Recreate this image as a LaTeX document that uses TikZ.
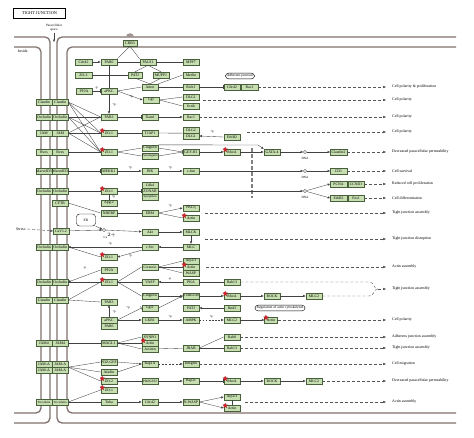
\documentclass[tikz,border=0pt]{standalone}
\usepackage{fontspec}
\setmainfont{Liberation Serif}
\usetikzlibrary{arrows.meta,shapes.geometric}
\definecolor{gfill}{RGB}{198,222,176}
\definecolor{gline}{RGB}{72,96,60}
\definecolor{memb}{RGB}{128,114,110}
\definecolor{cline}{RGB}{65,65,65}
\definecolor{dcol}{RGB}{85,85,85}
\definecolor{rstarc}{RGB}{222,30,40}
\begin{document}
\begin{tikzpicture}[x=1pt,y=-1pt,
  gene/.style={draw=gline,fill=gfill,line width=0.35pt,inner sep=0pt,minimum width=16.5pt,minimum height=6pt,font=\fontsize{3.8}{4}\selectfont},
  pair/.style={gene,minimum width=15.5pt},
  tiny/.style={font=\fontsize{3}{3}\selectfont},
  lbl/.style={font=\fontsize{3.9}{4.4}\selectfont,anchor=west,inner sep=0pt},
  con/.style={draw=cline,line width=0.35pt},
  act/.style={con,-{Triangle[length=2.4pt,width=2pt]}},
  inh/.style={con,-{Bar[width=4pt,line width=0.45pt]}},
  dsh/.style={draw=dcol,line width=0.4pt,dash pattern=on 3pt off 2pt,-{Triangle[length=2.8pt,width=2.3pt]}},
  dline/.style={draw=dcol,line width=0.4pt,dash pattern=on 3pt off 2pt},
  pl/.style={font=\fontsize{3.2}{3.2}\selectfont,inner sep=0pt},
  rstar/.style={star,star points=5,star point ratio=2.2,fill=rstarc,draw=rstarc!70!black,line width=0.2pt,minimum size=5pt,inner sep=0pt},
  rbox/.style={draw=black,rounded corners=3pt,line width=0.4pt,inner sep=1.2pt,font=\fontsize{3.6}{4}\selectfont},
  dnac/.style={circle,draw=cline,line width=0.35pt,minimum size=3.4pt,inner sep=0pt,fill=white},
  membl/.style={draw=memb,line width=1.3pt,rounded corners=5pt},
]
\fill[white] (0,0) rectangle (474,437);
\useasboundingbox (0,0) rectangle (474,437);

% membranes
\draw[membl] (14,37) -- (50,37) -- (50,423) -- (14,423);
\draw[membl] (14,47) -- (41,47) -- (41,413) -- (14,413);
\draw[membl] (456,37) -- (57,37) -- (57,423) -- (456,423);
\draw[membl] (456,47) -- (67,47) -- (67,413) -- (456,413);
\fill[memb!75] (126,37) .. controls (126,31.7) and (134,31.7) .. (134,37) -- cycle;
% nucleus boundary
\draw[gray,line width=1.3pt,dash pattern=on 4pt off 2pt] (252,148) -- (252,198);

\node[draw,line width=0.5pt,minimum width=52pt,minimum height=10pt,inner sep=0pt,font=\fontsize{4.3}{5}\selectfont] (title) at (39.5,13.5) {TIGHT JUNCTION};
\node[font=\fontsize{3.3}{3.6}\selectfont,align=center,inner sep=0pt] (para) at (54,27.5) {Paracellular\\space};
\coordinate (parb) at (54,42);
\draw[act] (54,32.5) -- (parb);
\node[lbl] (inside) at (18,51.5) {Inside};

% ---------- membrane pairs ----------
\foreach \y/\n/\t in {102/claA/Claudin,117/occA/Occludin,133/jamA/JAM,152/bves/Bves,171/mar/MarvelD3,191/occB/Occludin,247/occC/Occludin,282/occD/Occludin,300/claB/Claudin,343/jamf/JAM4,364/jaa/JAM-A,370/jab/JAM-A}
{ \node[pair] (\n1) at (44,\y) {\t}; \node[pair] (\n2) at (60.25,\y) {\t}; }
\node[pair,tiny] (tric1) at (44,402) {Tricellulin};
\node[pair,tiny] (tric2) at (60.25,402) {Tricellulin};
\node[pair] (cftr) at (60.25,203) {CFTR};
\node[pair] (cav) at (61,231) {CaV1.2};

% ---------- top ----------
\node[gene,minimum width=14pt] (crb3) at (130,43) {CRB3};
\node[gene] (cdcA) at (83.5,62) {Cdc42};
\node[gene] (par6A) at (109,62) {PAR6};
\node[gene] (pals1) at (148,62) {PALS1};
\node[gene] (mpp) at (191,62) {MPP7};
\node[gene] (zo3) at (83.5,75) {ZO-3};
\node[gene,minimum width=14pt] (patj) at (135,75) {PATJ};
\node[gene] (mupp1) at (161,75) {MUPP1};
\node[gene] (merlin) at (191,75) {Merlin};
\node[gene] (pp2aA) at (84,91) {PP2A};
\node[gene] (apkcA) at (109,91) {aPKC};
\node[gene] (amot) at (150,87) {Amot};
\node[gene] (rich1) at (191,87) {Rich1};
\node[gene] (cdcB) at (232,87) {Cdc42};
\node[gene] (rac1A) at (249.5,87) {Rac1};
\node[rbox] (adh) at (240,76) {Adherens junction};
\node[gene] (lgl) at (151,100) {Lgl};
\node[gene] (dlg1) at (191,97) {DLG1};
\node[gene] (scrib) at (191,106) {Scrib};

% ---------- column 109 ----------
\node[gene] (par3A) at (109,117) {PAR3};
\node[gene] (zo1A) at (109,133) {ZO-1};
\node[gene] (zo1B) at (109,152) {ZO-1};
\node[gene] (mekk1) at (109,171) {MEKK1};
\node[gene] (zo1C) at (109,191) {ZO-1};
\node[gene] (apg2) at (109,203) {Apg-2};
\node[gene] (nherf) at (109,213) {NHERF};
\node[gene] (zo1D) at (109,257) {ZO-1};
\node[gene] (pp2aB) at (109,270) {PP2A};
\node[gene] (zo1E) at (109,282) {ZO-1};
\node[gene] (par3B) at (109,302) {PAR3};
\node[gene] (apkcB) at (109,320) {aPKC};
\node[gene] (par6B) at (109,326) {PAR6};
\node[gene] (magi) at (109,343) {MAGI-1};
\node[gene] (pdzgef) at (109,362) {PDZ-GEF};
\node[gene] (afadin) at (109,372) {Afadin};
\node[gene] (zo2) at (109,381) {ZO-2};
\node[gene] (zo1F) at (109,390) {ZO-1};
\node[gene] (tuba) at (109,402) {Tuba};
\node[rbox,minimum width=19pt,minimum height=12pt] (er) at (86,220) {ER};

% ---------- column 150 ----------
\node[gene] (tiam1) at (150,117) {Tiam1};
\node[gene] (tjap1) at (150,133) {TJAP1};
\node[gene] (cgn) at (150,148) {Cingulin};
\node[gene,tiny] (pcgn) at (150,156) {Paracingulin};
\node[gene] (jnk) at (150,171) {JNK};
\node[gene] (cdk4) at (150,185) {Cdk4};
\node[gene] (zonab) at (150,191) {ZONAB};
\node[gene,tiny] (sympk) at (150,197) {Symplekin};
\node[gene] (erm) at (150,213) {ERM};
\node[gene] (akt) at (150,232) {Akt};
\node[gene] (csrc) at (150,247) {c-Src};
\node[gene,font=\fontsize{3.4}{3.4}\selectfont] (cortactin) at (150,267) {Cortactin};
\node[gene] (vasp) at (150,282) {VASP};
\node[gene] (cgn2) at (150,296) {Cingulin};
\node[gene] (lgl2) at (150,308) {Lgl2};
\node[gene] (lkb1) at (150,320) {LKB1};
\node[gene] (synpo) at (150,337) {SYNPO};
\node[gene] (actinA) at (150,343) {Actin};
\node[gene] (actn) at (150,349) {Actinin};
\node[gene] (rap1a) at (150,364) {Rap1A};
\node[gene,font=\fontsize{3.3}{3.3}\selectfont] (pdzgef2) at (150,381) {PDZGEF2};
\node[gene] (cdcC) at (150,402) {Cdc42};

% ---------- column 191 ----------
\node[gene] (rac1B) at (191,117) {Rac1};
\node[gene] (dlgA) at (191,130) {DLG2};
\node[gene] (dlgB) at (191,136) {DLG1};
\node[gene] (gefh1) at (191,152) {GEF-H1};
\node[gene] (cjun) at (191,171) {c-Jun};
\node[gene] (pkch) at (191,208) {PKCη};
\node[gene] (actinB) at (191,218) {Actin};
\node[gene] (mlck) at (191,232) {MLCK};
\node[gene] (mlc) at (191,247) {MLC};
\node[gene] (arp23A) at (191,261) {Arp2/3};
\node[gene] (actinC) at (191,267) {Actin};
\node[gene] (wasp) at (191,273) {WASP};
\node[gene] (pka) at (191,282) {PKA};
\node[gene,tiny] (p114) at (191,296) {p114RhoGEF};
\node[gene] (patjB) at (191,308) {PATJ};
\node[gene] (ampk) at (191,320) {AMPK};
\node[gene] (jrab) at (191,348) {JRAB};
\node[gene] (integrin) at (191,364) {Integrin};
\node[gene] (rap2c) at (191,381) {Rap2c};
\node[gene] (nwasp) at (191,402) {N-WASP};

% ---------- column 232 ----------
\node[gene] (xbox) at (232,137) {ErbB2};
\node[gene] (rhoA) at (232,152) {RhoA};
\node[gene] (rab13A) at (232,282) {Rab13};
\node[gene] (rhoB) at (232,296) {RhoA};
\node[gene] (rnd) at (232,308) {Rnd3};
\node[gene] (mlc2B) at (232,320) {MLC2};
\node[gene] (rab8) at (232,337) {Rab8};
\node[gene] (rab13B) at (232,348) {Rab13};
\node[gene] (rhoC) at (232,381) {RhoA};
\node[gene] (arp23B) at (232,397) {Arp2/3};
\node[gene] (actinD) at (232,408) {Actin};

% ---------- right columns ----------
\node[gene] (gata4) at (272,152) {GATA-4};
\node[gene] (rockA) at (272,296) {ROCK};
\node[gene,minimum width=13pt] (xstar) at (271,320) {Actin};
\node[gene] (rockB) at (272,381) {ROCK};
\node[rbox,minimum width=50pt] (regact) at (280,308) {Regulation of actin cytoskeleton};
\node[gene] (mlc2A) at (314,296) {MLC2};
\node[gene] (mlc2C) at (314,381) {MLC2};
\node[gene] (cldn2) at (338.5,152) {Claudin2};
\node[gene] (cd1) at (338.5,171) {CD1};
\node[gene] (pcna) at (338.5,184) {PCNA};
\node[gene] (ccnd1) at (356,184) {CCND1};
\node[gene] (erbb2) at (338.5,198) {ErbB2};
\node[gene] (fos1) at (356,198) {Fos1};

% DNA and Ca2+
\foreach \n/\y in {dna1/152,dna2/171,dna3/191}{
  \node[dnac] (\n) at (305,\y) {};
  \node[pl] (\n t) at (305,\y+6) {DNA};
}
\node[dnac] (ca) at (104,230) {};
\node[pl] (cat) at (110,235.5) {Ca$^{2+}$};
\node[lbl] (stress) at (16,229) {Stress};

% red marks
\foreach \n in {zo1A,zo1B,zo1C,zo1D,zo1E,zo2,zo1F,rhoA,rhoB,rhoC,actinA,actinB,actinC,actinD,xstar}{
  \node[rstar,xshift=1.6pt,yshift=-0.8pt] (s\n) at (\n.north west) {};
}

% ---------- right labels ----------
\foreach \n/\y/\t in {o1/87/Cell polarity \& proliferation,o2/100/Cell polarity,o3/117/Cell polarity,o4/132/Cell polarity,o5/152/Decreased paracellular permeability,o6/171/Cell survival,o7/184/Reduced cell proliferation,o8/198/Cell differentiation,o9/213/Tight junction assembly,o10/239/Tight junction disruption,o11/267/Actin assembly,o12/289/Tight junction assembly,o13/320/Cell polarity,o14/337/Adherens junction assembly,o15/348/Tight junction assembly,o16/364/Cell migration,o17/381/Decreased paracellular permeability,o18/402/Actin assembly}{
  \node[lbl] (\n) at (392,\y) {\t};
  \coordinate (\n a) at (386,\y);
}

% ---------- top edges ----------
\draw[act] (cdcA) -- (par6A);
\draw[con] (crb3.south) -- (par6A.north east);
\draw[con] (crb3.south) -- (pals1.north west);
\draw[con] (par6A) -- (pals1);
\draw[con] (pals1) -- (mpp);
\draw[con] (pals1.south) -- (patj.north);
\draw[con] (pals1.south) -- (mupp1.north);
\draw[con] (patj.south) -- (amot.north);
\draw[con] (mupp1.south) -- (amot.north);
\draw[con] (zo3) -- (patj);
\draw[con] (par6A) -- (apkcA);
\draw[inh] (pp2aA) -- (apkcA);
\node[pl] (pA) at (96.5,88.5) {-p};
\draw[con] (apkcA.east) -- (amot.west);
\draw[act] (apkcA.east) -- (lgl.west);
\node[pl] (pB) at (131,96.5) {+p};
\draw[act] (apkcA) -- (par3A);
\node[pl] (pC) at (114,104.5) {+p};
\draw[con] (amot) -- (rich1);
\draw[con] (amot.north east) -- (merlin.west);
\draw[inh] (rich1) -- (cdcB);
\draw[con] (lgl.east) -- (dlg1.west);
\draw[con] (lgl.east) -- (scrib.west);
\coordinate (cdl) at (203,100);
\draw[dsh] (rac1A.east) -- (o1a);
\draw[dsh] (cdl) -- (o2a);

% membrane fan
\foreach \t in {par3A,zo1A,zo1B} { \draw[con] (claA2.east) -- (\t.west); \draw[con] (jamA2.east) -- (\t.west); }
\foreach \t in {par3A,zo1A,zo1B} { \draw[con] (occA2.east) -- (\t.west); }
\draw[con] (bves2) -- (zo1B);

% row 117
\draw[inh] (par3A) -- (tiam1);
\draw[act] (tiam1) -- (rac1B);
\draw[dsh] (rac1B.east) -- (o3a);
% row 133
\draw[con] (zo1A) -- (tjap1);
\draw[con] (tjap1.east) -- (dlgA.south west);
\draw[act] (xbox.west) -- (dlgB.east);
\node[pl] (pD) at (212,132) {+p};
\coordinate (c133) at (247,132);
\draw[dsh] (c133) -- (o4a);
% row 152
\draw[con] (zo1B.east) -- (cgn.west);
\draw[con] (zo1B.east) -- (pcgn.west);
\draw[inh] (cgn.east) -- (gefh1.west);
\draw[inh] (pcgn.east) -- (gefh1.west);
\draw[act] (gefh1) -- (rhoA);
\draw[act] (rhoA) -- (gata4);
\coordinate (cg1) at (258,145);
\draw[con] (cgn.north east) -- (cg1);
\draw[act] (cg1) -- (gata4.north west);
\draw[act] (gata4) -- (dna1);
\draw[act] (dna1) -- (cldn2);
\draw[dsh] (cldn2.east) -- (o5a);
% row 171
\draw[inh] (mar2) -- (mekk1);
\draw[act] (mekk1) -- (jnk);
\node[pl] (pE) at (130,168) {+p};
\draw[act] (jnk) -- (cjun);
\node[pl] (pF) at (170,168) {+p};
\draw[act] (cjun) -- (dna2);
\draw[act] (dna2) -- (cd1);
\draw[dsh] (cd1.east) -- (o6a);
% row 191
\draw[con] (occB2) -- (zo1C);
\draw[inh] (zo1C) -- (zonab);
\draw[con] (zo1C) -- (apg2);
\node[pl] (pG) at (113.5,197) {+p};
\draw[act] (zonab.east) -- (dna3);
\draw[act] (dna3) -- (pcna.west);
\draw[act] (dna3) -- (erbb2.west);
\draw[dsh] (ccnd1.east) -- (o7a);
\draw[dsh] (fos1.east) -- (o8a);
% row 203-218
\draw[con] (cftr.east) -- (nherf.west);
\draw[con] (nherf) -- (erm);
\draw[act] (erm.east) -- (pkch.west);
\node[pl] (pH) at (170,206) {+p};
\draw[con] (erm.east) -- (actinB.west);
\coordinate (c213) at (205,213);
\draw[dsh] (c213) -- (o9a);
% stress / calcium
\draw[dsh] ([xshift=1.5pt]stress.east) -- (cav.west);
\draw[act] (cav) -- (ca);
\draw[act] (er.south east) -- (ca);
\draw[act] (ca) -- (akt);
\draw[act] (akt) -- (mlck);
\draw[act] (mlck) -- (mlc);
\draw[act] (mlc) -- (csrc);
\draw[act] (csrc) -- (occC2);
\node[pl] (pI) at (110,243.5) {+p};
\draw[act] (csrc.south west) -- (zo1D.east);
\node[pl] (pJ) at (130,255.5) {+p};
\draw[con] (occC2.east) -- (zo1D.west);
\coordinate (c239) at (205,239);
\draw[dsh] (c239) -- (o10a);
% rows 267-320
\draw[act] (pp2aB.west) -- (occD2.east);
\node[pl] (pK) at (85,268) {-p};
\draw[con] (occD2) -- (zo1E);
\draw[con] (claB2.east) -- (zo1E.west);
\draw[con] (claB2.east) -- (par3B.west);
\draw[con] (zo1E.east) -- (cortactin.west);
\draw[con] (zo1E) -- (vasp);
\draw[con] (zo1E.east) -- (cgn2.west);
\draw[con] (cortactin.east) -- (arp23A.west);
\draw[con] (cortactin.east) -- (actinC.west);
\draw[con] (cortactin.east) -- (wasp.west);
\coordinate (c267) at (206,267);
\draw[dsh] (c267) -- (o11a);
\draw[act] (pka) -- (vasp);
\node[pl] (pL) at (170,279) {-p};
\draw[inh] (rab13A) -- (pka);
\coordinate (br) at (378,289);
\draw[dline] (rab13A.east) -- (369,282) .. controls (375,282) and (373,289) .. (br);
\draw[dline] (mlc2A.east) -- (369,296) .. controls (375,296) and (373,289) .. (br);
\draw[dsh] (br) -- (o12a);
\draw[act] (cgn2) -- (p114);
\draw[act] (lgl2.east) -- (p114.west);
\draw[act] (p114) -- (rhoB);
\draw[act] (rhoB) -- (rockA);
\draw[act] (rockA) -- (mlc2A);
\draw[act] (rnd) -- (patjB);
\draw[act] (apkcB) -- (par3B);
\node[pl] (pM) at (114,311.5) {+p};
\draw[inh] (apkcB.east) -- (lgl2.west);
\node[pl] (pN) at (128,307.5) {+p};
\draw[act] (apkcB) -- (lkb1);
\draw[act] (lkb1) -- (ampk);
\node[pl] (pO) at (170,317) {+p};
\draw[act,dash pattern=on 1.8pt off 1.3pt] (ampk) -- (mlc2B);
\node[pl] (pP) at (211,317) {+p};
\draw[act] (mlc2B) -- (xstar);
\draw[dsh] (xstar.east) -- (o13a);
% bottom
\draw[con] (jamf2) -- (magi);
\draw[con] (magi.east) -- (synpo.west);
\draw[con] (magi.east) -- (actinA.west);
\draw[con] (magi.east) -- (actn.west);
\draw[con] (actn) -- (jrab);
\draw[con] (jrab.east) -- (rab8.west);
\draw[con] (jrab) -- (rab13B);
\draw[dsh] (rab8.east) -- (o14a);
\draw[dsh] (rab13B.east) -- (o15a);
\draw[con] (jaa2.south east) -- (pdzgef.west);
\draw[con] (jaa2.south east) -- (afadin.west);
\draw[con] (jaa2.south east) -- (zo2.west);
\draw[act] (pdzgef.east) -- (rap1a.west);
\draw[con] (afadin.east) -- (rap1a.west);
\draw[act,dash pattern=on 2pt off 1.5pt] (rap1a) -- (integrin);
\draw[dsh] (integrin.east) -- (o16a);
\draw[con] (zo2) -- (pdzgef2);
\draw[act] (pdzgef2) -- (rap2c);
\draw[inh] (rap2c) -- (rhoC);
\draw[act] (rhoC) -- (rockB);
\draw[act] (rockB) -- (mlc2C);
\draw[dsh] (mlc2C.east) -- (o17a);
\draw[con] (tric2.east) -- (zo1F.west);
\draw[con] (tric2) -- (tuba);
\draw[act] (tuba) -- (cdcC);
\draw[act] (cdcC) -- (nwasp);
\draw[act] (nwasp.east) -- (arp23B.west);
\draw[act] (nwasp.east) -- (actinD.west);
\draw[con] (arp23B) -- (actinD);
\coordinate (c402) at (245,402);
\draw[dsh] (c402) -- (o18a);
\end{tikzpicture}
\end{document}
